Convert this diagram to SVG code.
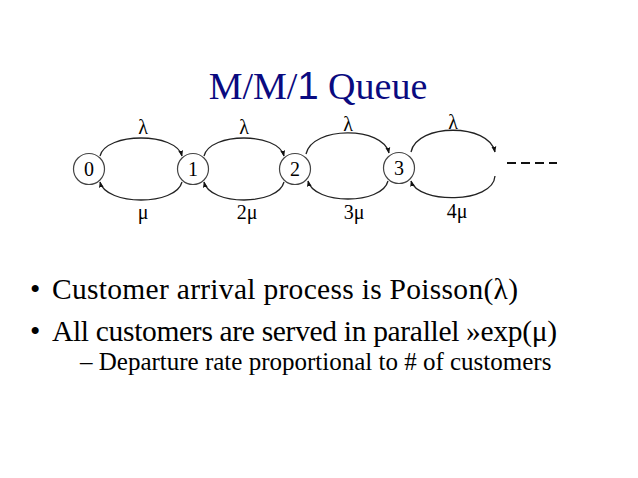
<svg xmlns="http://www.w3.org/2000/svg" width="638" height="478" viewBox="0 0 638 478">
<style>
.t{font-family:"Liberation Serif","Times New Roman",serif;fill:#000}
.title{font-size:38px;fill:#0a0a80}
.nl{font-size:20px;text-anchor:middle}
.el{font-size:20px;text-anchor:middle}
.b1{font-size:29.5px}
.b2{font-size:25px}
.node circle{fill:#fff;stroke:#444;stroke-width:1.2}
.arc{fill:none;stroke:#222;stroke-width:1.3;marker-end:url(#ah)}
</style>
<defs>
<marker id="ah" viewBox="0 0 10 10" refX="9" refY="5" markerWidth="6" markerHeight="6" markerUnits="userSpaceOnUse" orient="auto">
<path d="M0,1 L10,5 L0,9 z" fill="#111"/>
</marker>
</defs>
<rect width="638" height="478" fill="#fff"/>
<text class="t title" x="318" y="99" text-anchor="middle">M/M/<tspan font-family="Liberation Sans, Arial, sans-serif">1</tspan> Queue</text>

<g id="connectors">
<path class="arc" d="M100,156 C106,132 176,132 182,156"/>
<path class="arc" d="M204,156 C210,132 278,132 284,156"/>
<path class="arc" d="M306,154 C312,126 383,126 389,153"/>
<path class="arc" d="M411,152 C417,123 489,123 495,152"/>
<path class="arc" d="M182,182 C176,206 106,206 100,182"/>
<path class="arc" d="M284,182 C278,206 210,206 204,182"/>
<path class="arc" d="M388,181 C382,205 314,205 308,181"/>
<path class="arc" d="M495,176 C493,204 418,204 411,181"/>
<path d="M507,163 H557" stroke="#111" stroke-width="2.2" stroke-dasharray="9,5"/>
</g>
<g id="edge-labels">
<text class="t el" x="143" y="134">λ</text>
<text class="t el" x="244" y="134">λ</text>
<text class="t el" x="348" y="131">λ</text>
<text class="t el" x="453" y="129">λ</text>
<text class="t el" x="143" y="219">μ</text>
<text class="t el" x="247" y="219">2μ</text>
<text class="t el" x="354" y="219">3μ</text>
<text class="t el" x="457" y="218">4μ</text>
</g>
<g id="node0" class="node"><circle cx="89" cy="169" r="15.5"/><text class="t nl" x="89" y="176">0</text></g>
<g id="node1" class="node"><circle cx="193" cy="169" r="15.5"/><text class="t nl" x="193" y="176">1</text></g>
<g id="node2" class="node"><circle cx="295" cy="169" r="15.5"/><text class="t nl" x="295" y="176">2</text></g>
<g id="node3" class="node"><circle cx="399" cy="168" r="15.5"/><text class="t nl" x="399" y="175">3</text></g>

<g id="bullets">
<text class="t b1" x="30" y="299">•</text>
<text class="t b1" x="52" y="299" textLength="466">Customer arrival process is Poisson(λ)</text>
<text class="t b1" x="30" y="341">•</text>
<text class="t b1" x="52" y="341" textLength="505">All customers are served in parallel »exp(μ)</text>
<text class="t b2" x="80" y="370">– Departure rate proportional to # of customers</text>
</g>
</svg>
